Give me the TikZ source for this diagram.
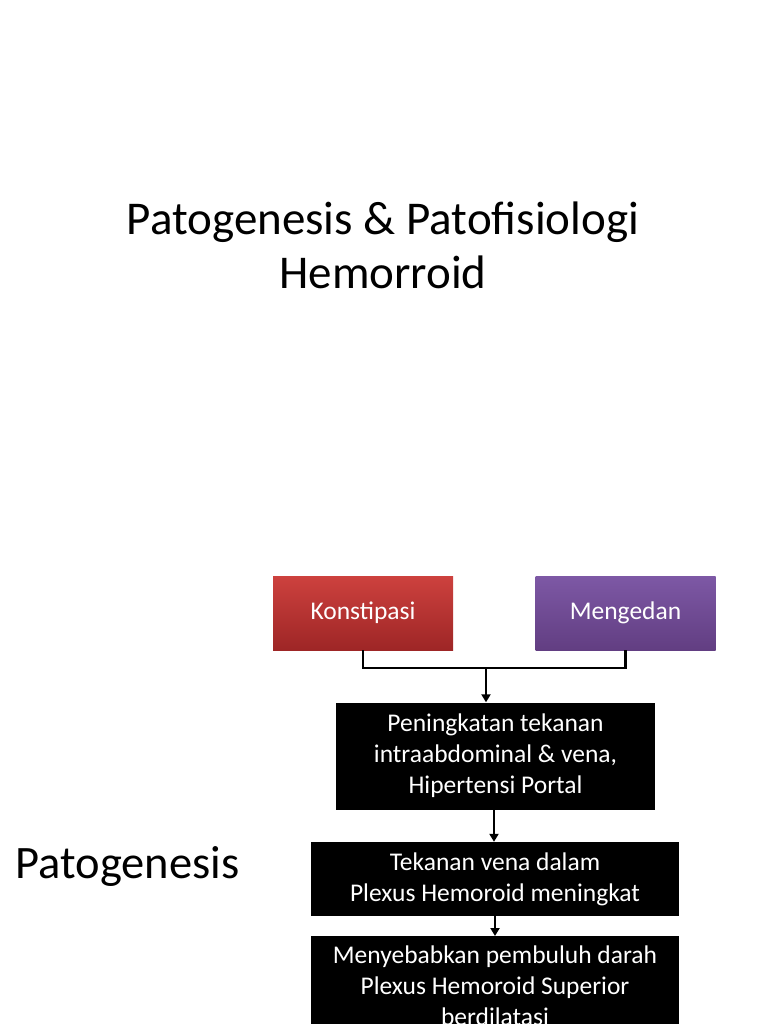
\documentclass[tikz,border=0pt]{standalone}
\usepackage{fontspec}
\setmainfont{Carlito}
\usetikzlibrary{arrows.meta}
\definecolor{rtop}{RGB}{205,65,62}\definecolor{rbot}{RGB}{158,38,38}
\definecolor{ptop}{RGB}{125,88,165}\definecolor{pbot}{RGB}{98,62,130}
\begin{document}
\begin{tikzpicture}[x=1pt,y=-1pt,
  colbox/.style={draw=none,minimum width=180pt,minimum height=74pt,text=white,font=\fontsize{25.5}{30}\selectfont},
  blkbox/.style={fill=black,text=white,align=center,font=\fontsize{25.5}{31}\selectfont,inner sep=0pt},
  conn/.style={line width=2.5pt},
  arr/.style={conn,-{Triangle[length=8pt,width=9pt]}}]
\useasboundingbox (0,0) rectangle (768,1024);
\node[font=\fontsize{47}{54}\selectfont,align=center] (title) at (383,245) {Patogenesis \& Patofisiologi\\Hemorroid};
\node[font=\fontsize{46.5}{50}\selectfont,anchor=west] (pat) at (12,866) {Patogenesis};
\node[colbox,top color=rtop,bottom color=rbot] (k) at (363,613) {Konstipasi};
\node[colbox,top color=ptop,bottom color=pbot] (m) at (625.5,613) {Mengedan};
\node[blkbox,minimum width=319pt,minimum height=107pt] (b1) at (495.5,756) {Peningkatan tekanan\\intraabdominal \& vena,\\Hipertensi Portal};
\node[blkbox,minimum width=368pt,minimum height=74pt] (b2) at (495,879) {Tekanan vena dalam\\Plexus Hemoroid meningkat};
\node[blkbox,minimum width=368pt,minimum height=100pt,anchor=north] (b3) at (495,936) {};
\node[text=white,align=center,font=\fontsize{25.5}{31}\selectfont,anchor=north] (b3t) at (495,942) {Menyebabkan pembuluh darah\\Plexus Hemoroid Superior\\berdilatasi};
\coordinate (j) at (486,668);
\draw[conn] (k.south) |- (j) -| (m.south);
\draw[arr] (j) -- (j|-b1.north);
\draw[arr] (b1.south -| 494,0) -- (b2.north -| 494,0);
\draw[arr] (b2.south) -- (b3.north);
\end{tikzpicture}
\end{document}
